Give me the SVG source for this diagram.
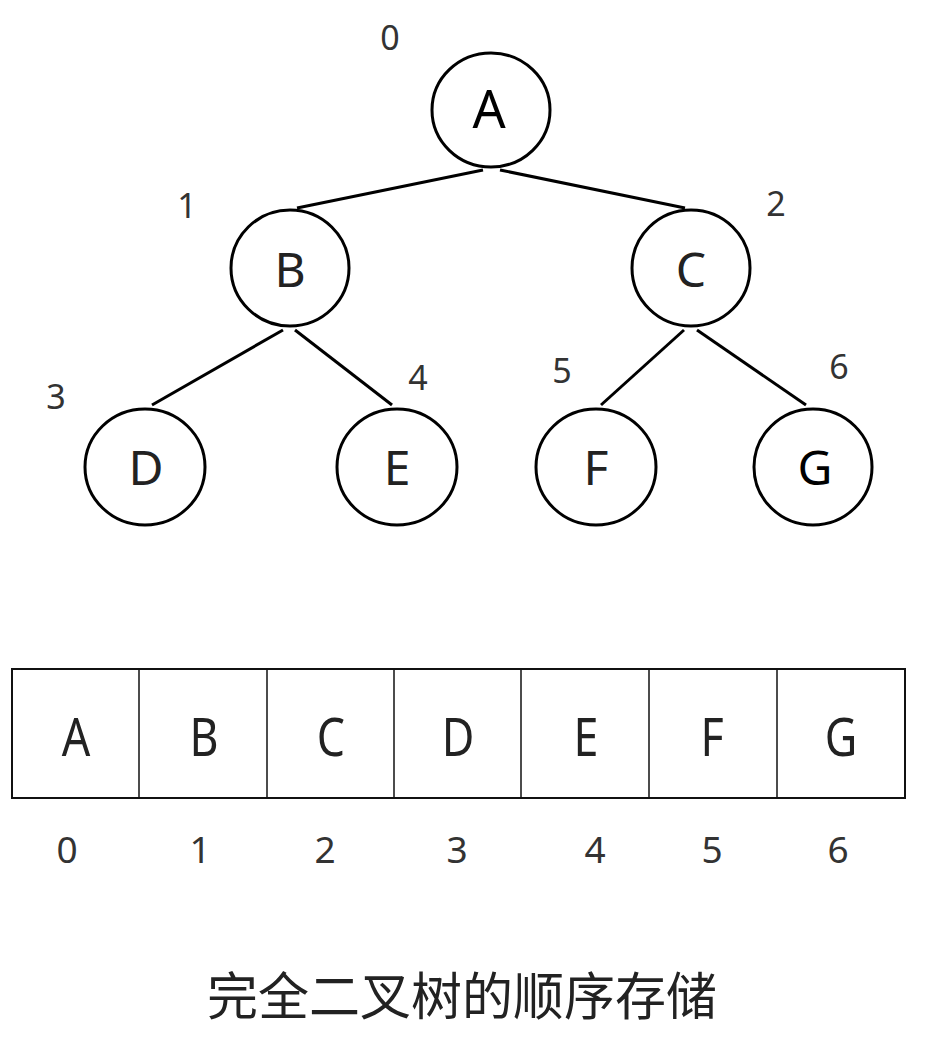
<svg xmlns="http://www.w3.org/2000/svg" width="933" height="1038" viewBox="0 0 933 1038">
<style>
.node{fill:#fff;stroke:#000;stroke-width:3}
.lbl{font-family:"Noto Sans","DejaVu Sans",sans-serif;font-size:48px;fill:#222;text-anchor:middle}
.idx{font-family:"Noto Sans","DejaVu Sans",sans-serif;font-size:34px;fill:#333;text-anchor:middle}
.aidx{font-family:"Noto Sans","DejaVu Sans",sans-serif;font-size:37px;fill:#333;text-anchor:middle}
.edge{stroke:#000;stroke-width:3;fill:none}
.cell{fill:#fff;stroke:#111;stroke-width:1.5}
.cl{font-family:"Noto Sans","DejaVu Sans",sans-serif;font-size:52px;fill:#222;text-anchor:middle}
.title{font-family:"Noto Sans CJK SC","Noto Sans",sans-serif;font-size:51px;fill:#222;text-anchor:middle}
</style>
<rect width="933" height="1038" fill="#fff"/>
<g id="connectors">
<line class="edge" x1="483" y1="170" x2="297" y2="208"/>
<line class="edge" x1="500" y1="170" x2="685" y2="208"/>
<line class="edge" x1="283" y1="330" x2="152" y2="405"/>
<line class="edge" x1="295" y1="330" x2="392" y2="405"/>
<line class="edge" x1="684" y1="330" x2="601" y2="405"/>
<line class="edge" x1="697" y1="330" x2="806" y2="405"/>
</g>
<g id="nodeA"><ellipse class="node" cx="491" cy="110" rx="59" ry="57"/><text class="lbl" x="489" y="128" style="font-size:52px;fill:#000">A</text><text class="idx" x="390" y="50">0</text></g>
<g id="nodeB"><ellipse class="node" cx="290" cy="268" rx="59" ry="58"/><text class="lbl" x="290" y="287">B</text><text class="idx" x="187" y="218">1</text></g>
<g id="nodeC"><ellipse class="node" cx="691" cy="268" rx="59" ry="58"/><text class="lbl" x="691" y="287">C</text><text class="idx" x="776" y="216">2</text></g>
<g id="nodeD"><ellipse class="node" cx="145" cy="467" rx="60" ry="58"/><text class="lbl" x="146" y="485">D</text><text class="idx" x="56" y="409">3</text></g>
<g id="nodeE"><ellipse class="node" cx="397" cy="467" rx="60" ry="58"/><text class="lbl" x="397" y="485">E</text><text class="idx" x="418" y="390">4</text></g>
<g id="nodeF"><ellipse class="node" cx="596" cy="467" rx="60" ry="58"/><text class="lbl" x="596" y="485">F</text><text class="idx" x="562" y="383">5</text></g>
<g id="nodeG"><ellipse class="node" cx="813" cy="467" rx="59" ry="58"/><text class="lbl" x="815" y="485" style="fill:#000">G</text><text class="idx" x="839" y="379">6</text></g>
<g id="array">
<rect class="cell" x="12" y="669" width="893" height="129" style="stroke-width:2"/>
<line class="cell" x1="139" y1="669" x2="139" y2="798"/>
<line class="cell" x1="267" y1="669" x2="267" y2="798"/>
<line class="cell" x1="394" y1="669" x2="394" y2="798"/>
<line class="cell" x1="521" y1="669" x2="521" y2="798"/>
<line class="cell" x1="649" y1="669" x2="649" y2="798"/>
<line class="cell" x1="777" y1="669" x2="777" y2="798"/>
<text class="cl" transform="translate(76 756) scale(0.86 1)">A</text>
<text class="cl" transform="translate(204 756) scale(0.86 1)">B</text>
<text class="cl" transform="translate(331 756) scale(0.86 1)">C</text>
<text class="cl" transform="translate(458 756) scale(0.86 1)">D</text>
<text class="cl" transform="translate(586 756) scale(0.86 1)">E</text>
<text class="cl" transform="translate(712 756) scale(0.86 1)">F</text>
<text class="cl" transform="translate(841 756) scale(0.86 1)">G</text>
<text class="aidx" x="67" y="863">0</text>
<text class="aidx" x="200" y="863">1</text>
<text class="aidx" x="325" y="863">2</text>
<text class="aidx" x="457" y="863">3</text>
<text class="aidx" x="595" y="863">4</text>
<text class="aidx" x="712" y="863">5</text>
<text class="aidx" x="838" y="863">6</text>
</g>
<text class="title" x="462" y="1015">完全二叉树的顺序存储</text>
</svg>
